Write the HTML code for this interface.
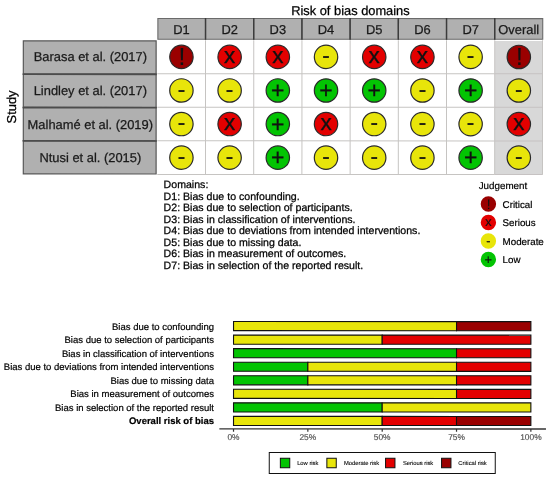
<!DOCTYPE html>
<html lang="en"><head><meta charset="utf-8"><title>Risk of bias</title>
<style>html,body{margin:0;padding:0;background:#fff}svg{display:block}</style></head>
<body>
<svg width="550" height="480" viewBox="0 0 550 480" text-rendering="geometricPrecision" font-family="'Liberation Sans', Arial, Helvetica, sans-serif">
<rect width="550" height="480" fill="#fff"/>
<g transform="rotate(0.01 275 240)">
<text x="350.4" y="14.8" font-size="12.85" text-anchor="middle" fill="#000" stroke="#000" stroke-width="0.25">Risk of bias domains</text>
<text transform="translate(16,107) rotate(-90)" font-size="12.9" text-anchor="middle" fill="#000" stroke="#000" stroke-width="0.25">Study</text>
<rect x="494.70" y="41" width="47.90" height="133.82" fill="#d8d8d8"/>
<line x1="205.50" x2="205.50" y1="40.2" y2="174.42" stroke="#c6c4c2" stroke-width="1"/>
<line x1="253.70" x2="253.70" y1="40.2" y2="174.42" stroke="#c6c4c2" stroke-width="1"/>
<line x1="301.90" x2="301.90" y1="40.2" y2="174.42" stroke="#c6c4c2" stroke-width="1"/>
<line x1="350.10" x2="350.10" y1="40.2" y2="174.42" stroke="#c6c4c2" stroke-width="1"/>
<line x1="398.30" x2="398.30" y1="40.2" y2="174.42" stroke="#c6c4c2" stroke-width="1"/>
<line x1="446.50" x2="446.50" y1="40.2" y2="174.42" stroke="#c6c4c2" stroke-width="1"/>
<line x1="494.70" x2="494.70" y1="40.2" y2="174.42" stroke="#c6c4c2" stroke-width="1"/>
<line x1="542.50" x2="542.50" y1="40.2" y2="174.42" stroke="#c6c4c2" stroke-width="1"/>
<line x1="157.3" x2="494.70000000000005" y1="73.68" y2="73.68" stroke="#c6c4c2" stroke-width="1"/>
<line x1="494.70000000000005" x2="542.60" y1="73.68" y2="73.68" stroke="#c6c2c2" stroke-width="1"/>
<line x1="157.3" x2="494.70000000000005" y1="107.26" y2="107.26" stroke="#c6c4c2" stroke-width="1"/>
<line x1="494.70000000000005" x2="542.60" y1="107.26" y2="107.26" stroke="#c6c2c2" stroke-width="1"/>
<line x1="157.3" x2="494.70000000000005" y1="140.84" y2="140.84" stroke="#c6c4c2" stroke-width="1"/>
<line x1="494.70000000000005" x2="542.60" y1="140.84" y2="140.84" stroke="#c6c2c2" stroke-width="1"/>
<line x1="157.3" x2="494.70000000000005" y1="174.42" y2="174.42" stroke="#c6c4c2" stroke-width="1"/>
<line x1="494.70000000000005" x2="542.60" y1="174.42" y2="174.42" stroke="#c6c2c2" stroke-width="1"/>
<rect x="157.85" y="18.55" width="47.65" height="20.70" fill="#b0b0b0" stroke="#6a6a6a" stroke-width="1.1"/>
<text x="181.40" y="33.7" font-size="12.9" text-anchor="middle" fill="#1a1a1a" stroke="#1a1a1a" stroke-width="0.25">D1</text>
<rect x="205.50" y="18.55" width="48.20" height="20.70" fill="#b0b0b0" stroke="#6a6a6a" stroke-width="1.1"/>
<text x="229.60" y="33.7" font-size="12.9" text-anchor="middle" fill="#1a1a1a" stroke="#1a1a1a" stroke-width="0.25">D2</text>
<rect x="253.70" y="18.55" width="48.20" height="20.70" fill="#b0b0b0" stroke="#6a6a6a" stroke-width="1.1"/>
<text x="277.80" y="33.7" font-size="12.9" text-anchor="middle" fill="#1a1a1a" stroke="#1a1a1a" stroke-width="0.25">D3</text>
<rect x="301.90" y="18.55" width="48.20" height="20.70" fill="#b0b0b0" stroke="#6a6a6a" stroke-width="1.1"/>
<text x="326.00" y="33.7" font-size="12.9" text-anchor="middle" fill="#1a1a1a" stroke="#1a1a1a" stroke-width="0.25">D4</text>
<rect x="350.10" y="18.55" width="48.20" height="20.70" fill="#b0b0b0" stroke="#6a6a6a" stroke-width="1.1"/>
<text x="374.20" y="33.7" font-size="12.9" text-anchor="middle" fill="#1a1a1a" stroke="#1a1a1a" stroke-width="0.25">D5</text>
<rect x="398.30" y="18.55" width="48.20" height="20.70" fill="#b0b0b0" stroke="#6a6a6a" stroke-width="1.1"/>
<text x="422.40" y="33.7" font-size="12.9" text-anchor="middle" fill="#1a1a1a" stroke="#1a1a1a" stroke-width="0.25">D6</text>
<rect x="446.50" y="18.55" width="48.20" height="20.70" fill="#b0b0b0" stroke="#6a6a6a" stroke-width="1.1"/>
<text x="470.60" y="33.7" font-size="12.9" text-anchor="middle" fill="#1a1a1a" stroke="#1a1a1a" stroke-width="0.25">D7</text>
<rect x="494.70" y="18.55" width="48.00" height="20.70" fill="#b0b0b0" stroke="#6a6a6a" stroke-width="1.1"/>
<text x="518.70" y="33.7" font-size="12.9" text-anchor="middle" fill="#1a1a1a" stroke="#1a1a1a" stroke-width="0.25">Overall</text>
<line x1="205.50" x2="205.50" y1="18.05" y2="39.75" stroke="#3c3c3c" stroke-width="1.4"/>
<line x1="253.70" x2="253.70" y1="18.05" y2="39.75" stroke="#3c3c3c" stroke-width="1.4"/>
<line x1="301.90" x2="301.90" y1="18.05" y2="39.75" stroke="#3c3c3c" stroke-width="1.4"/>
<line x1="350.10" x2="350.10" y1="18.05" y2="39.75" stroke="#3c3c3c" stroke-width="1.4"/>
<line x1="398.30" x2="398.30" y1="18.05" y2="39.75" stroke="#3c3c3c" stroke-width="1.4"/>
<line x1="446.50" x2="446.50" y1="18.05" y2="39.75" stroke="#3c3c3c" stroke-width="1.4"/>
<line x1="494.70" x2="494.70" y1="18.05" y2="39.75" stroke="#3c3c3c" stroke-width="1.4"/>
<rect x="23.3" y="40.90" width="132.80" height="33.30" fill="#b0b0b0" stroke="#585858" stroke-width="1.2"/>
<text x="90.30" y="61.50" font-size="12.9" text-anchor="middle" fill="#1a1a1a" stroke="#1a1a1a" stroke-width="0.25">Barasa et al. (2017)</text>
<rect x="23.3" y="74.20" width="132.80" height="33.30" fill="#b0b0b0" stroke="#585858" stroke-width="1.2"/>
<text x="90.30" y="95.03" font-size="12.9" text-anchor="middle" fill="#1a1a1a" stroke="#1a1a1a" stroke-width="0.25">Lindley et al. (2017)</text>
<rect x="23.3" y="107.50" width="132.80" height="33.30" fill="#b0b0b0" stroke="#585858" stroke-width="1.2"/>
<text x="90.30" y="128.56" font-size="12.9" text-anchor="middle" fill="#1a1a1a" stroke="#1a1a1a" stroke-width="0.25">Malhamé et al. (2019)</text>
<rect x="23.3" y="140.80" width="132.80" height="33.20" fill="#b0b0b0" stroke="#585858" stroke-width="1.2"/>
<text x="90.30" y="162.09" font-size="12.9" text-anchor="middle" fill="#1a1a1a" stroke="#1a1a1a" stroke-width="0.25">Ntusi et al. (2015)</text>
<line x1="22.7" x2="156.7" y1="74.3" y2="74.3" stroke="#4c4c4c" stroke-width="1.7"/>
<line x1="22.7" x2="156.7" y1="107.6" y2="107.6" stroke="#4c4c4c" stroke-width="1.7"/>
<line x1="22.7" x2="156.7" y1="141.0" y2="141.0" stroke="#4c4c4c" stroke-width="1.7"/>
<circle cx="181.40" cy="56.89" r="11.7" fill="#9a0000" stroke="#2a2a2a" stroke-width="1.2"/>
<text x="181.90" y="65.29" font-size="24.60" text-anchor="middle" fill="#111" stroke="#111" stroke-width="0.10">!</text>
<circle cx="229.60" cy="56.89" r="11.7" fill="#e30000" stroke="#2a2a2a" stroke-width="1.2"/>
<text x="229.60" y="62.69" font-size="22.50" text-anchor="middle" fill="#111" stroke="#111" stroke-width="0.30">x</text>
<circle cx="277.80" cy="56.89" r="11.7" fill="#e30000" stroke="#2a2a2a" stroke-width="1.2"/>
<text x="277.80" y="62.69" font-size="22.50" text-anchor="middle" fill="#111" stroke="#111" stroke-width="0.30">x</text>
<circle cx="326.00" cy="56.89" r="11.7" fill="#e8e50a" stroke="#2a2a2a" stroke-width="1.2"/>
<text x="326.00" y="63.19" font-size="22.50" text-anchor="middle" fill="#111" stroke="#111" stroke-width="0.30">-</text>
<circle cx="374.20" cy="56.89" r="11.7" fill="#e30000" stroke="#2a2a2a" stroke-width="1.2"/>
<text x="374.20" y="62.69" font-size="22.50" text-anchor="middle" fill="#111" stroke="#111" stroke-width="0.30">x</text>
<circle cx="422.40" cy="56.89" r="11.7" fill="#e30000" stroke="#2a2a2a" stroke-width="1.2"/>
<text x="422.40" y="62.69" font-size="22.50" text-anchor="middle" fill="#111" stroke="#111" stroke-width="0.30">x</text>
<circle cx="470.60" cy="56.89" r="11.7" fill="#e8e50a" stroke="#2a2a2a" stroke-width="1.2"/>
<text x="470.60" y="63.19" font-size="22.50" text-anchor="middle" fill="#111" stroke="#111" stroke-width="0.30">-</text>
<circle cx="518.80" cy="56.89" r="11.7" fill="#9a0000" stroke="#2a2a2a" stroke-width="1.2"/>
<text x="519.30" y="65.29" font-size="24.60" text-anchor="middle" fill="#111" stroke="#111" stroke-width="0.10">!</text>
<circle cx="181.40" cy="90.47" r="11.7" fill="#e8e50a" stroke="#2a2a2a" stroke-width="1.2"/>
<text x="181.40" y="96.77" font-size="22.50" text-anchor="middle" fill="#111" stroke="#111" stroke-width="0.30">-</text>
<circle cx="229.60" cy="90.47" r="11.7" fill="#e8e50a" stroke="#2a2a2a" stroke-width="1.2"/>
<text x="229.60" y="96.77" font-size="22.50" text-anchor="middle" fill="#111" stroke="#111" stroke-width="0.30">-</text>
<circle cx="277.80" cy="90.47" r="11.7" fill="#03c403" stroke="#2a2a2a" stroke-width="1.2"/>
<text x="277.80" y="98.17" font-size="23.00" text-anchor="middle" fill="#111" stroke="#111" stroke-width="0.30">+</text>
<circle cx="326.00" cy="90.47" r="11.7" fill="#03c403" stroke="#2a2a2a" stroke-width="1.2"/>
<text x="326.00" y="98.17" font-size="23.00" text-anchor="middle" fill="#111" stroke="#111" stroke-width="0.30">+</text>
<circle cx="374.20" cy="90.47" r="11.7" fill="#03c403" stroke="#2a2a2a" stroke-width="1.2"/>
<text x="374.20" y="98.17" font-size="23.00" text-anchor="middle" fill="#111" stroke="#111" stroke-width="0.30">+</text>
<circle cx="422.40" cy="90.47" r="11.7" fill="#e8e50a" stroke="#2a2a2a" stroke-width="1.2"/>
<text x="422.40" y="96.77" font-size="22.50" text-anchor="middle" fill="#111" stroke="#111" stroke-width="0.30">-</text>
<circle cx="470.60" cy="90.47" r="11.7" fill="#03c403" stroke="#2a2a2a" stroke-width="1.2"/>
<text x="470.60" y="98.17" font-size="23.00" text-anchor="middle" fill="#111" stroke="#111" stroke-width="0.30">+</text>
<circle cx="518.80" cy="90.47" r="11.7" fill="#e8e50a" stroke="#2a2a2a" stroke-width="1.2"/>
<text x="518.80" y="96.77" font-size="22.50" text-anchor="middle" fill="#111" stroke="#111" stroke-width="0.30">-</text>
<circle cx="181.40" cy="124.05" r="11.7" fill="#e8e50a" stroke="#2a2a2a" stroke-width="1.2"/>
<text x="181.40" y="130.35" font-size="22.50" text-anchor="middle" fill="#111" stroke="#111" stroke-width="0.30">-</text>
<circle cx="229.60" cy="124.05" r="11.7" fill="#e30000" stroke="#2a2a2a" stroke-width="1.2"/>
<text x="229.60" y="129.85" font-size="22.50" text-anchor="middle" fill="#111" stroke="#111" stroke-width="0.30">x</text>
<circle cx="277.80" cy="124.05" r="11.7" fill="#03c403" stroke="#2a2a2a" stroke-width="1.2"/>
<text x="277.80" y="131.75" font-size="23.00" text-anchor="middle" fill="#111" stroke="#111" stroke-width="0.30">+</text>
<circle cx="326.00" cy="124.05" r="11.7" fill="#e30000" stroke="#2a2a2a" stroke-width="1.2"/>
<text x="326.00" y="129.85" font-size="22.50" text-anchor="middle" fill="#111" stroke="#111" stroke-width="0.30">x</text>
<circle cx="374.20" cy="124.05" r="11.7" fill="#e8e50a" stroke="#2a2a2a" stroke-width="1.2"/>
<text x="374.20" y="130.35" font-size="22.50" text-anchor="middle" fill="#111" stroke="#111" stroke-width="0.30">-</text>
<circle cx="422.40" cy="124.05" r="11.7" fill="#e8e50a" stroke="#2a2a2a" stroke-width="1.2"/>
<text x="422.40" y="130.35" font-size="22.50" text-anchor="middle" fill="#111" stroke="#111" stroke-width="0.30">-</text>
<circle cx="470.60" cy="124.05" r="11.7" fill="#e8e50a" stroke="#2a2a2a" stroke-width="1.2"/>
<text x="470.60" y="130.35" font-size="22.50" text-anchor="middle" fill="#111" stroke="#111" stroke-width="0.30">-</text>
<circle cx="518.80" cy="124.05" r="11.7" fill="#e30000" stroke="#2a2a2a" stroke-width="1.2"/>
<text x="518.80" y="129.85" font-size="22.50" text-anchor="middle" fill="#111" stroke="#111" stroke-width="0.30">x</text>
<circle cx="181.40" cy="157.63" r="11.7" fill="#e8e50a" stroke="#2a2a2a" stroke-width="1.2"/>
<text x="181.40" y="163.93" font-size="22.50" text-anchor="middle" fill="#111" stroke="#111" stroke-width="0.30">-</text>
<circle cx="229.60" cy="157.63" r="11.7" fill="#e8e50a" stroke="#2a2a2a" stroke-width="1.2"/>
<text x="229.60" y="163.93" font-size="22.50" text-anchor="middle" fill="#111" stroke="#111" stroke-width="0.30">-</text>
<circle cx="277.80" cy="157.63" r="11.7" fill="#03c403" stroke="#2a2a2a" stroke-width="1.2"/>
<text x="277.80" y="165.33" font-size="23.00" text-anchor="middle" fill="#111" stroke="#111" stroke-width="0.30">+</text>
<circle cx="326.00" cy="157.63" r="11.7" fill="#e8e50a" stroke="#2a2a2a" stroke-width="1.2"/>
<text x="326.00" y="163.93" font-size="22.50" text-anchor="middle" fill="#111" stroke="#111" stroke-width="0.30">-</text>
<circle cx="374.20" cy="157.63" r="11.7" fill="#e8e50a" stroke="#2a2a2a" stroke-width="1.2"/>
<text x="374.20" y="163.93" font-size="22.50" text-anchor="middle" fill="#111" stroke="#111" stroke-width="0.30">-</text>
<circle cx="422.40" cy="157.63" r="11.7" fill="#e8e50a" stroke="#2a2a2a" stroke-width="1.2"/>
<text x="422.40" y="163.93" font-size="22.50" text-anchor="middle" fill="#111" stroke="#111" stroke-width="0.30">-</text>
<circle cx="470.60" cy="157.63" r="11.7" fill="#03c403" stroke="#2a2a2a" stroke-width="1.2"/>
<text x="470.60" y="165.33" font-size="23.00" text-anchor="middle" fill="#111" stroke="#111" stroke-width="0.30">+</text>
<circle cx="518.80" cy="157.63" r="11.7" fill="#e8e50a" stroke="#2a2a2a" stroke-width="1.2"/>
<text x="518.80" y="163.93" font-size="22.50" text-anchor="middle" fill="#111" stroke="#111" stroke-width="0.30">-</text>
<text x="163.6" y="188.50" font-size="10.6" fill="#000" stroke="#000" stroke-width="0.25">Domains:</text>
<text x="163.6" y="199.98" font-size="10.6" fill="#000" stroke="#000" stroke-width="0.25">D1: Bias due to confounding.</text>
<text x="163.6" y="211.46" font-size="10.6" fill="#000" stroke="#000" stroke-width="0.25">D2: Bias due to selection of participants.</text>
<text x="163.6" y="222.94" font-size="10.6" fill="#000" stroke="#000" stroke-width="0.25">D3: Bias in classification of interventions.</text>
<text x="163.6" y="234.42" font-size="10.6" fill="#000" stroke="#000" stroke-width="0.25">D4: Bias due to deviations from intended interventions.</text>
<text x="163.6" y="245.90" font-size="10.6" fill="#000" stroke="#000" stroke-width="0.25">D5: Bias due to missing data.</text>
<text x="163.6" y="257.38" font-size="10.6" fill="#000" stroke="#000" stroke-width="0.25">D6: Bias in measurement of outcomes.</text>
<text x="163.6" y="268.86" font-size="10.6" fill="#000" stroke="#000" stroke-width="0.25">D7: Bias in selection of the reported result.</text>
<text x="478.7" y="188.5" font-size="9.8" fill="#000" stroke="#000" stroke-width="0.2">Judgement</text>
<circle cx="488.4" cy="204.00" r="7.7" fill="#9a0000"/>
<text x="488.68" y="208.70" font-size="13.78" text-anchor="middle" fill="#111" stroke="#111" stroke-width="0.06">!</text>
<text x="502.6" y="207.60" font-size="9.75" fill="#000" stroke="#000" stroke-width="0.2">Critical</text>
<circle cx="488.4" cy="222.47" r="7.7" fill="#e30000"/>
<text x="488.40" y="225.72" font-size="12.60" text-anchor="middle" fill="#111" stroke="#111" stroke-width="0.17">x</text>
<text x="502.6" y="226.07" font-size="9.75" fill="#000" stroke="#000" stroke-width="0.2">Serious</text>
<circle cx="488.4" cy="240.94" r="7.7" fill="#e8e50a"/>
<text x="488.40" y="244.47" font-size="12.60" text-anchor="middle" fill="#111" stroke="#111" stroke-width="0.17">-</text>
<text x="502.6" y="244.54" font-size="9.75" fill="#000" stroke="#000" stroke-width="0.2">Moderate</text>
<circle cx="488.4" cy="259.41" r="7.7" fill="#03c403"/>
<text x="488.40" y="263.72" font-size="12.88" text-anchor="middle" fill="#111" stroke="#111" stroke-width="0.17">+</text>
<text x="502.6" y="263.01" font-size="9.75" fill="#000" stroke="#000" stroke-width="0.2">Low</text>
<text x="214" y="329.55" font-size="9.5" text-anchor="end" fill="#000" stroke="#000" stroke-width="0.2">Bias due to confounding</text>
<rect x="233.55" y="321.55" width="223.01" height="9.1" fill="#e8e50a" stroke="#111" stroke-width="1.1"/>
<rect x="456.56" y="321.55" width="74.34" height="9.1" fill="#9a0000" stroke="#111" stroke-width="1.1"/>
<text x="214" y="343.10" font-size="9.5" text-anchor="end" fill="#000" stroke="#000" stroke-width="0.2">Bias due to selection of participants</text>
<rect x="233.55" y="335.10" width="148.67" height="9.1" fill="#e8e50a" stroke="#111" stroke-width="1.1"/>
<rect x="382.23" y="335.10" width="148.67" height="9.1" fill="#e30000" stroke="#111" stroke-width="1.1"/>
<text x="214" y="356.65" font-size="9.5" text-anchor="end" fill="#000" stroke="#000" stroke-width="0.2">Bias in classification of interventions</text>
<rect x="233.55" y="348.65" width="223.01" height="9.1" fill="#03c403" stroke="#111" stroke-width="1.1"/>
<rect x="456.56" y="348.65" width="74.34" height="9.1" fill="#e30000" stroke="#111" stroke-width="1.1"/>
<text x="214" y="370.20" font-size="9.5" text-anchor="end" fill="#000" stroke="#000" stroke-width="0.2">Bias due to deviations from intended interventions</text>
<rect x="233.55" y="362.20" width="74.34" height="9.1" fill="#03c403" stroke="#111" stroke-width="1.1"/>
<rect x="307.89" y="362.20" width="148.67" height="9.1" fill="#e8e50a" stroke="#111" stroke-width="1.1"/>
<rect x="456.56" y="362.20" width="74.34" height="9.1" fill="#e30000" stroke="#111" stroke-width="1.1"/>
<text x="214" y="383.75" font-size="9.5" text-anchor="end" fill="#000" stroke="#000" stroke-width="0.2">Bias due to missing data</text>
<rect x="233.55" y="375.75" width="74.34" height="9.1" fill="#03c403" stroke="#111" stroke-width="1.1"/>
<rect x="307.89" y="375.75" width="148.67" height="9.1" fill="#e8e50a" stroke="#111" stroke-width="1.1"/>
<rect x="456.56" y="375.75" width="74.34" height="9.1" fill="#e30000" stroke="#111" stroke-width="1.1"/>
<text x="214" y="397.30" font-size="9.5" text-anchor="end" fill="#000" stroke="#000" stroke-width="0.2">Bias in measurement of outcomes</text>
<rect x="233.55" y="389.30" width="223.01" height="9.1" fill="#e8e50a" stroke="#111" stroke-width="1.1"/>
<rect x="456.56" y="389.30" width="74.34" height="9.1" fill="#e30000" stroke="#111" stroke-width="1.1"/>
<text x="214" y="410.85" font-size="9.5" text-anchor="end" fill="#000" stroke="#000" stroke-width="0.2">Bias in selection of the reported result</text>
<rect x="233.55" y="402.85" width="148.67" height="9.1" fill="#03c403" stroke="#111" stroke-width="1.1"/>
<rect x="382.23" y="402.85" width="148.67" height="9.1" fill="#e8e50a" stroke="#111" stroke-width="1.1"/>
<text x="214" y="424.40" font-size="9.5" text-anchor="end" fill="#000" stroke="#000" stroke-width="0.2" font-weight="bold">Overall risk of bias</text>
<rect x="233.55" y="416.40" width="148.67" height="9.1" fill="#e8e50a" stroke="#111" stroke-width="1.1"/>
<rect x="382.23" y="416.40" width="74.34" height="9.1" fill="#e30000" stroke="#111" stroke-width="1.1"/>
<rect x="456.56" y="416.40" width="74.34" height="9.1" fill="#9a0000" stroke="#111" stroke-width="1.1"/>
<line x1="219.4" x2="546" y1="428.95" y2="428.95" stroke="#333" stroke-width="1.35"/>
<line x1="233.55" x2="233.55" y1="429" y2="431.7" stroke="#333" stroke-width="1.2"/>
<text x="233.55" y="439.8" font-size="8.4" text-anchor="middle" fill="#505050" stroke="#505050" stroke-width="0.15">0%</text>
<line x1="307.89" x2="307.89" y1="429" y2="431.7" stroke="#333" stroke-width="1.2"/>
<text x="307.89" y="439.8" font-size="8.4" text-anchor="middle" fill="#505050" stroke="#505050" stroke-width="0.15">25%</text>
<line x1="382.23" x2="382.23" y1="429" y2="431.7" stroke="#333" stroke-width="1.2"/>
<text x="382.23" y="439.8" font-size="8.4" text-anchor="middle" fill="#505050" stroke="#505050" stroke-width="0.15">50%</text>
<line x1="456.56" x2="456.56" y1="429" y2="431.7" stroke="#333" stroke-width="1.2"/>
<text x="456.56" y="439.8" font-size="8.4" text-anchor="middle" fill="#505050" stroke="#505050" stroke-width="0.15">75%</text>
<line x1="530.90" x2="530.90" y1="429" y2="431.7" stroke="#333" stroke-width="1.2"/>
<text x="530.90" y="439.8" font-size="8.4" text-anchor="middle" fill="#505050" stroke="#505050" stroke-width="0.15">100%</text>
<rect x="269.3" y="452.5" width="226" height="21" fill="#fff" stroke="#111" stroke-width="1"/>
<rect x="280.4" y="458.3" width="9.4" height="9.4" fill="#03c403" stroke="#111" stroke-width="1"/>
<text x="297.2" y="465" font-size="5.8" fill="#000" stroke="#000" stroke-width="0.1">Low risk</text>
<rect x="326.9" y="458.3" width="9.4" height="9.4" fill="#e8e50a" stroke="#111" stroke-width="1"/>
<text x="344" y="465" font-size="5.8" fill="#000" stroke="#000" stroke-width="0.1">Moderate risk</text>
<rect x="385.6" y="458.3" width="9.4" height="9.4" fill="#e30000" stroke="#111" stroke-width="1"/>
<text x="403" y="465" font-size="5.8" fill="#000" stroke="#000" stroke-width="0.1">Serious risk</text>
<rect x="441.6" y="458.3" width="9.4" height="9.4" fill="#9a0000" stroke="#111" stroke-width="1"/>
<text x="458.4" y="465" font-size="5.8" fill="#000" stroke="#000" stroke-width="0.1">Critical risk</text>
</g>
</svg>
</body></html>
